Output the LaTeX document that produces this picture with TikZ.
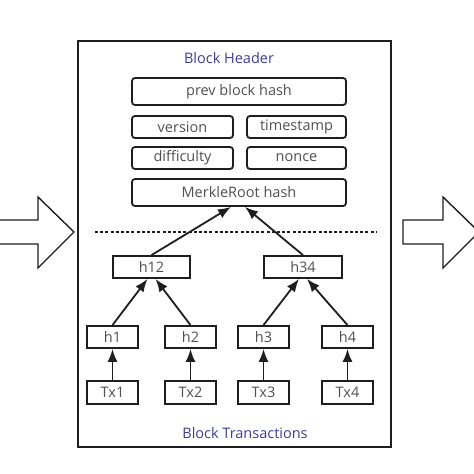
\documentclass[tikz,border=0pt]{standalone}
\usepackage{fontspec}
\setmainfont{Open Sans}
\usetikzlibrary{arrows.meta}
\definecolor{txtgrey}{HTML}{505050}
\definecolor{hdrblue}{HTML}{3C3C9A}
\definecolor{lineblk}{HTML}{1E1E1E}
\newcommand{\lowr}[1]{\raisebox{-1.5pt}{#1}}
\begin{document}
\begin{tikzpicture}[x=1pt,y=-1pt,
  fbox/.style={draw=lineblk, line width=1.8pt, rounded corners=3pt, inner sep=0pt,
    text=txtgrey, font=\fontsize{14.5}{16}\selectfont},
  hbox/.style={draw=lineblk, line width=1.8pt, inner sep=0pt, minimum height=22pt,
    text=txtgrey, font=\fontsize{14.5}{16}\selectfont},
  arr/.style={draw=lineblk, line width=1.8pt, -{Latex[length=13pt,width=10pt]}},
  title/.style={text=hdrblue, font=\fontsize{14.5}{16}\selectfont},
  big/.style={draw=lineblk, line width=1.4pt, fill=white}]
\useasboundingbox (0,0) rectangle (474,474);
\clip (0,0) rectangle (474,474);
% side block arrows
\draw[big] (-5,220) -- (38,220) -- (38,197) -- (74,232) -- (38,268) -- (38,244) -- (-5,244) -- cycle;
\draw[big] (403,220) -- (443,220) -- (443,197) -- (479,232) -- (443,268) -- (443,244) -- (403,244) -- cycle;
% main block
\node[draw=lineblk, line width=1.4pt, minimum width=313pt, minimum height=406pt, inner sep=0pt] (block) at (234.5,244) {};
\node[title] (hdr) at (229,58) {Block Header};
\node[title] (trx) at (245,433) {Block Transactions};
% header fields
\node[fbox, minimum width=214pt, minimum height=27pt] (prev) at (239,91.5) {\lowr{prev block hash}};
\node[fbox, minimum width=101pt, minimum height=22pt] (ver) at (182.5,127) {\lowr{version}};
\node[fbox, minimum width=99pt, minimum height=22pt] (ts) at (296.5,127) {\lowr{timestamp}};
\node[fbox, minimum width=101pt, minimum height=22pt] (diff) at (182.5,158) {\lowr{difficulty}};
\node[fbox, minimum width=99pt, minimum height=22pt] (nonce) at (296.5,158) {\lowr{nonce}};
\node[fbox, minimum width=214pt, minimum height=27pt] (mr) at (239,192.5) {\lowr{MerkleRoot hash}};
% separator
\coordinate (dl) at (95,232);
\coordinate (dr) at (377,232);
\draw[lineblk, line width=1.6pt, dash pattern=on 3pt off 2.2pt] (dl) -- (dr);
% tree
\node[hbox, minimum width=77pt] (h12) at (151.5,267) {\lowr{h12}};
\node[hbox, minimum width=78pt] (h34) at (303,267) {\lowr{h34}};
\node[hbox, minimum width=51pt] (h1) at (112.5,337) {\lowr{h1}};
\node[hbox, minimum width=51pt] (h2) at (190.5,337) {\lowr{h2}};
\node[hbox, minimum width=51pt] (h3) at (263.5,337) {\lowr{h3}};
\node[hbox, minimum width=51pt] (h4) at (347.5,337) {\lowr{h4}};
\node[hbox, minimum width=51pt, minimum height=23pt] (t1) at (112.5,392.5) {\lowr{Tx1}};
\node[hbox, minimum width=51pt, minimum height=23pt] (t2) at (190.5,392.5) {\lowr{Tx2}};
\node[hbox, minimum width=51pt, minimum height=23pt] (t3) at (263.5,392.5) {\lowr{Tx3}};
\node[hbox, minimum width=51pt, minimum height=23pt] (t4) at (347.5,392.5) {\lowr{Tx4}};
% arrows
\draw[arr] (h12.north) -- ([xshift=-8pt]mr.south);
\draw[arr] (h34.north) -- ([xshift=6pt]mr.south);
\draw[arr] (h1.north) -- ([xshift=-4pt]h12.south);
\draw[arr] (h2.north) -- ([xshift=4pt]h12.south);
\draw[arr] (h3.north) -- ([xshift=-4pt]h34.south);
\draw[arr] (h4.north) -- ([xshift=4pt]h34.south);
\draw[arr] (t1) -- (h1);
\draw[arr] (t2) -- (h2);
\draw[arr] (t3) -- (h3);
\draw[arr] (t4) -- (h4);
\end{tikzpicture}
\end{document}
